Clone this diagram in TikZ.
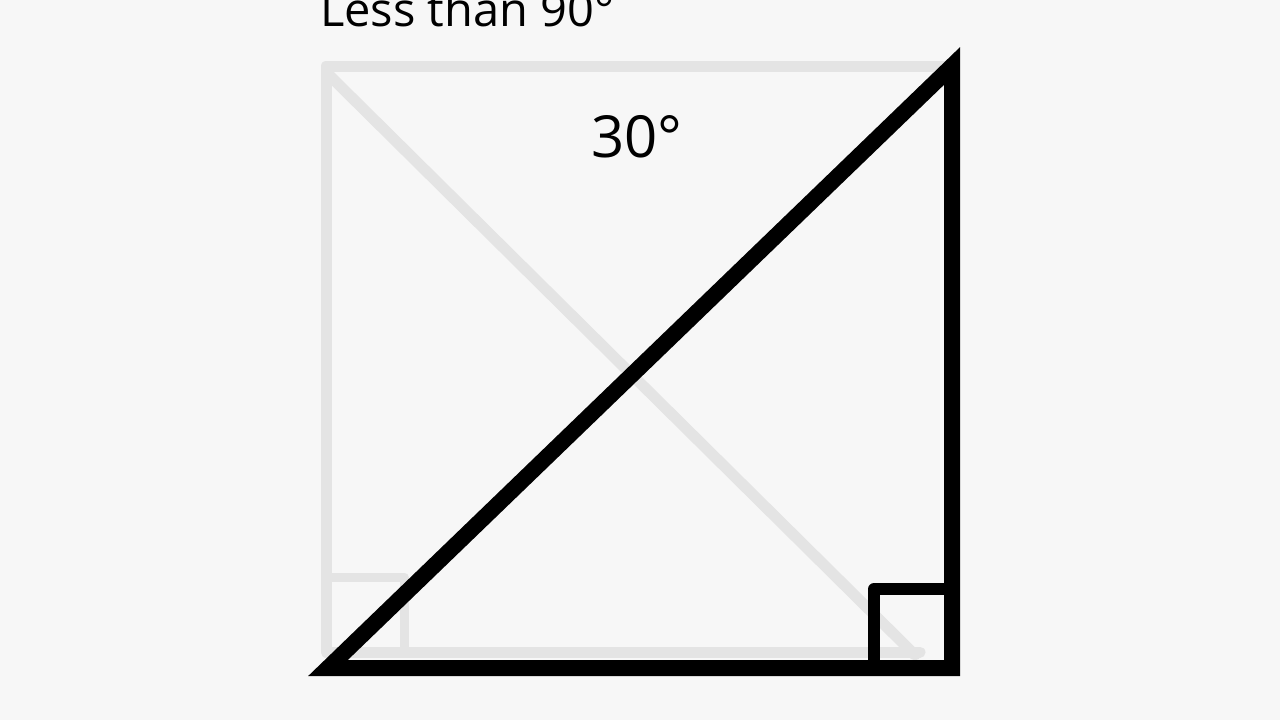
\documentclass[tikz,border=0pt]{standalone}
\usepackage{fontspec}
\setmainfont{Open Sans}
\definecolor{bg}{HTML}{F7F7F7}
\definecolor{ghost}{HTML}{E4E4E4}
\begin{document}
\begin{tikzpicture}[x=1pt,y=-1pt,
  ghostline/.style={draw=ghost,line width=11pt,line cap=round,line join=round},
  mainline/.style={draw=black,line width=16pt,line join=miter,line cap=round},
  sqline/.style={draw=black,line width=12pt,line join=round}]
\fill[bg] (0,0) rectangle (1280,720);
\useasboundingbox (0,0) rectangle (1280,720);
% ghost square and diagonal
\coordinate (g1) at (326,66);
\coordinate (g2) at (945,66);
\coordinate (g3) at (326,652);
\coordinate (g4) at (920,652);
\draw[ghostline] (g2) -- (g1) -- (g3) -- (g4);
\draw[ghostline] (330,76) -- (915,655);
\draw[ghostline,line width=9pt] (332,577) -- (404,577) -- (404,650);
% main triangle
\coordinate (A) at (328,668);
\coordinate (B) at (952,66);
\coordinate (C) at (952,668);
\draw[mainline] (A) -- (B) -- (C) -- cycle;
% right angle mark
\draw[sqline] (874,668) -- (874,589) -- (952,589);
% labels
\node[anchor=base west,inner sep=0pt,font=\fontsize{47}{47}\selectfont] (title) at (320,27) {Less than 90°};
\node[anchor=base west,inner sep=0pt,font=\fontsize{58}{58}\selectfont] (ang) at (591,157) {30°};
\end{tikzpicture}
\end{document}
